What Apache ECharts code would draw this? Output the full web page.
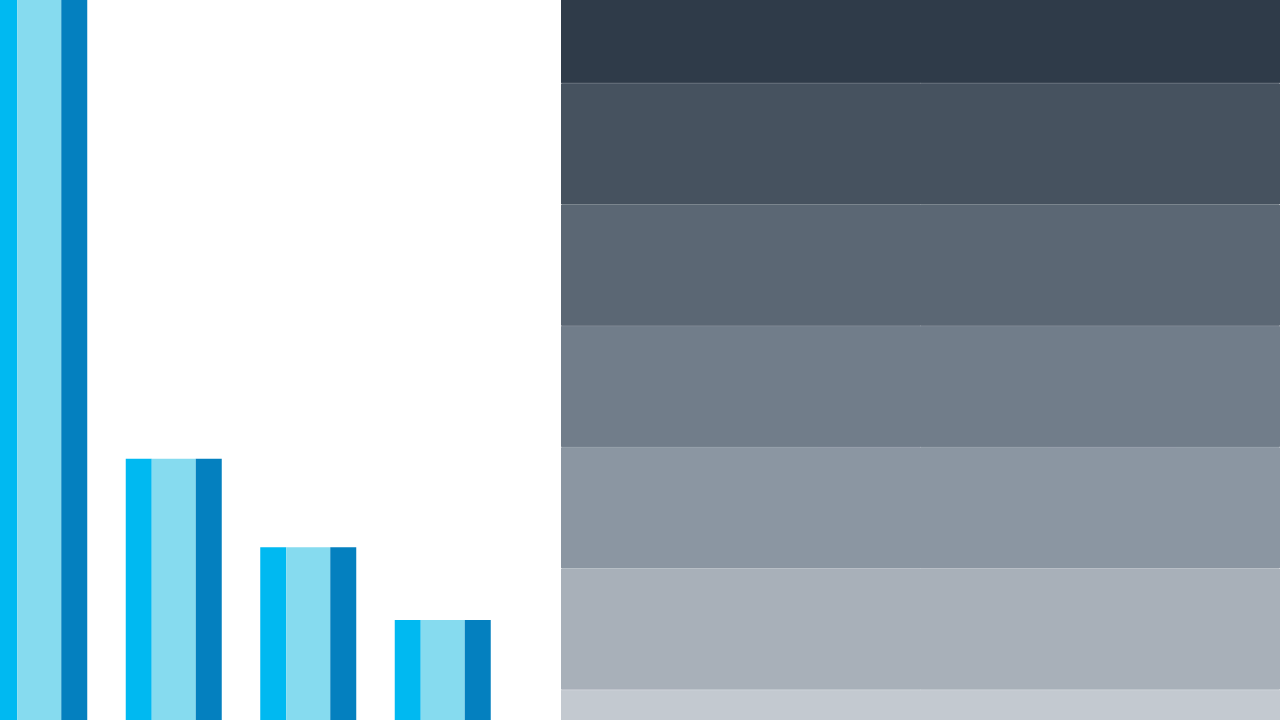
<!DOCTYPE html>
<html>
<head>
<meta charset="utf-8">
<script src="https://cdn.jsdelivr.net/npm/echarts@6/dist/echarts.min.js"></script>
<style>
  html, body { margin: 0; padding: 0; background: #fff; width: 1280px; height: 720px; overflow: hidden; position: relative; }
  /* chart box is a bit larger than the window, first bar group and first/last stripe are cut off */
  #main { position: absolute; left: -28px; top: -38px; width: 1308px; height: 849px; }
</style>
</head>
<body>
<div id="main"></div>
<script>
// left panel: 4 groups of 3 bars
var barCats = ['A', 'B', 'C', 'D'];
var seriesA = [100, 36.3, 24.0, 13.9];
var seriesB = [100, 36.3, 24.0, 13.9];
var seriesC = [100, 36.3, 24.0, 13.9];

// right panel: 7 stripes
var stripeCats = ['1', '2', '3', '4', '5', '6', '7'];
var stripeVals = [100, 100, 100, 100, 100, 100, 100];
var stripeColors = ['#2f3b49', '#46525f', '#5b6774', '#717d8a', '#8b96a2', '#a8b0b9', '#c3c9d0'];

var chart = echarts.init(document.getElementById('main'));

var option = {
  backgroundColor: '#ffffff',
  animation: false,
  grid: [
    { left: 0, width: 538, top: 38, bottom: 91 },
    { left: 589, right: 0, top: 0, bottom: 0 }
  ],
  xAxis: [
    { gridIndex: 0, type: 'category', data: barCats, show: false },
    { gridIndex: 1, type: 'value', min: 0, max: 100, show: false }
  ],
  yAxis: [
    { gridIndex: 0, type: 'value', min: 0, max: 100, show: false },
    { gridIndex: 1, type: 'category', data: stripeCats, inverse: true, show: false }
  ],
  series: [
    { type: 'bar', xAxisIndex: 0, yAxisIndex: 0, data: seriesA, barWidth: 26, barGap: '0%',
      itemStyle: { color: '#00b9f1' } },
    { type: 'bar', xAxisIndex: 0, yAxisIndex: 0, data: seriesB, barWidth: 44, barGap: '0%',
      itemStyle: { color: '#86dbef' } },
    { type: 'bar', xAxisIndex: 0, yAxisIndex: 0, data: seriesC, barWidth: 26, barGap: '0%',
      itemStyle: { color: '#0480bf' } },
    { type: 'bar', xAxisIndex: 1, yAxisIndex: 1, barWidth: '100%',
      data: stripeVals.map(function (v, i) {
        // border in same colour hides the thin seam between stripes
        return { value: v, itemStyle: { color: stripeColors[i], borderColor: stripeColors[i], borderWidth: 1 } };
      }) }
  ]
};

chart.setOption(option);
</script>
</body>
</html>
